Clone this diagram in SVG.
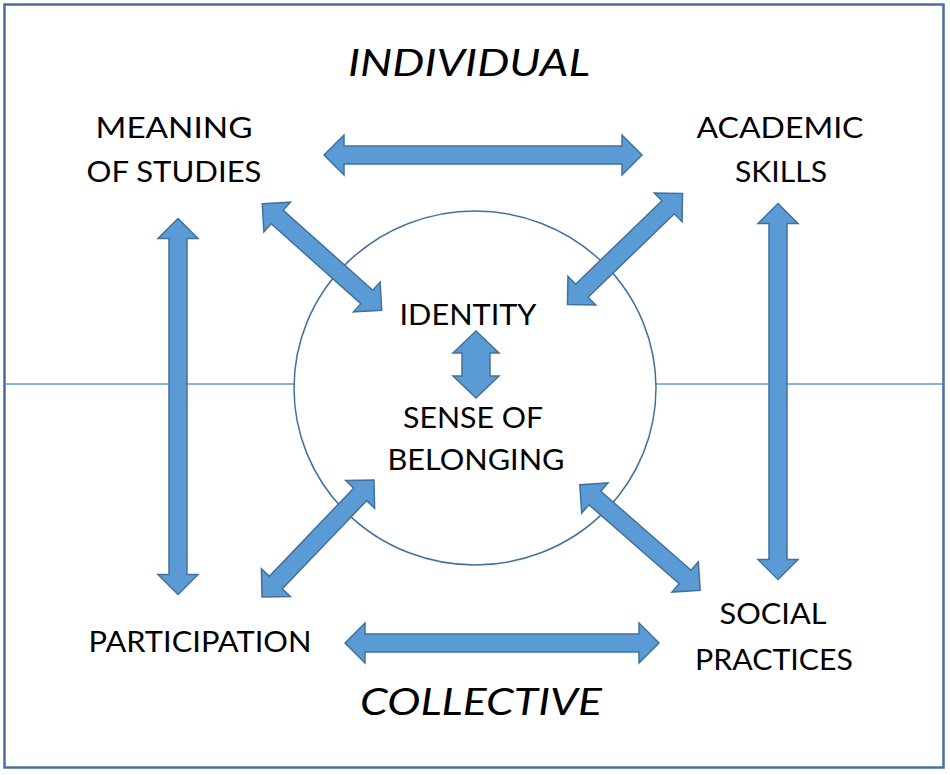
<svg xmlns="http://www.w3.org/2000/svg" width="950" height="775" viewBox="0 0 950 775">
<style>
.arr{fill:#5b9bd5;stroke:#41719c;stroke-width:1.5;stroke-linejoin:miter}
.lbl{font-family:Lato,"Open Sans","Liberation Sans",sans-serif;font-size:29px;fill:#000;text-anchor:middle}
.big{font-family:Lato,"Open Sans","Liberation Sans",sans-serif;font-size:37px;font-style:italic;fill:#000;text-anchor:middle}
</style>
<rect x="0" y="0" width="950" height="775" fill="#fff"/>
<rect x="4.5" y="4.5" width="939" height="763" fill="none" stroke="#4a6d9f" stroke-width="2.5"/>
<g id="axis">
<line x1="5" y1="384" x2="294" y2="384" stroke="#5b9bd5" stroke-width="1.5"/>
<line x1="656" y1="384" x2="943" y2="384" stroke="#5b9bd5" stroke-width="1.5"/>
</g>
<g id="circle">
<ellipse cx="475" cy="388" rx="181" ry="177" fill="none" stroke="#41719c" stroke-width="1.5"/>
</g>
<g id="labels">
<text class="big" x="469" y="76" textLength="242" lengthAdjust="spacingAndGlyphs">INDIVIDUAL</text>
<text class="big" x="481" y="715" textLength="242" lengthAdjust="spacingAndGlyphs">COLLECTIVE</text>
</g>
<g id="node-meaning">
<text class="lbl" x="174" y="138" textLength="157" lengthAdjust="spacingAndGlyphs">MEANING</text>
<text class="lbl" x="174" y="182" textLength="175" lengthAdjust="spacingAndGlyphs">OF STUDIES</text>
</g>
<g id="node-academic">
<text class="lbl" x="780" y="138" textLength="167" lengthAdjust="spacingAndGlyphs">ACADEMIC</text>
<text class="lbl" x="781" y="182" textLength="92" lengthAdjust="spacingAndGlyphs">SKILLS</text>
</g>
<g id="node-identity">
<text class="lbl" x="468" y="325" textLength="137" lengthAdjust="spacingAndGlyphs">IDENTITY</text>
</g>
<g id="node-belonging">
<text class="lbl" x="473" y="428" textLength="140" lengthAdjust="spacingAndGlyphs">SENSE OF</text>
<text class="lbl" x="476" y="470" textLength="177" lengthAdjust="spacingAndGlyphs">BELONGING</text>
</g>
<g id="node-participation">
<text class="lbl" x="200" y="652" textLength="223" lengthAdjust="spacingAndGlyphs">PARTICIPATION</text>
</g>
<g id="node-social">
<text class="lbl" x="773" y="624" textLength="107" lengthAdjust="spacingAndGlyphs">SOCIAL</text>
<text class="lbl" x="774" y="670" textLength="158" lengthAdjust="spacingAndGlyphs">PRACTICES</text>
</g>
<g id="connectors">
<polygon class="arr" transform="translate(483,155)" points="-159,0 -139,-20 -139,-9 139,-9 139,-20 159,0 139,20 139,9 -139,9 -139,20"/>
<polygon class="arr" transform="translate(502,643)" points="-157,0 -137,-20 -137,-9 137,-9 137,-20 157,0 137,20 137,9 -137,9 -137,20"/>
<polygon class="arr" transform="translate(178,406.5) rotate(90)" points="-188,0 -168,-20 -168,-9 168,-9 168,-20 188,0 168,20 168,9 -168,9 -168,20"/>
<polygon class="arr" transform="translate(778,391.5) rotate(90)" points="-188,0 -168,-20 -168,-9 168,-9 168,-20 188,0 168,20 168,9 -168,9 -168,20"/>
<polygon class="arr" transform="translate(322,257) rotate(41.7)" points="-80,0 -60,-20 -60,-9 60,-9 60,-20 80,0 60,20 60,9 -60,9 -60,20"/>
<polygon class="arr" transform="translate(625,249) rotate(-44)" points="-80,0 -60,-20 -60,-9 60,-9 60,-20 80,0 60,20 60,9 -60,9 -60,20"/>
<polygon class="arr" transform="translate(318,538.5) rotate(-46.3)" points="-81,0 -61,-20 -61,-9 61,-9 61,-20 81,0 61,20 61,9 -61,9 -61,20"/>
<polygon class="arr" transform="translate(640,537.5) rotate(41.2)" points="-80,0 -60,-20 -60,-9 60,-9 60,-20 80,0 60,20 60,9 -60,9 -60,20"/>
<polygon class="arr" transform="translate(476,364.5) rotate(90)" points="-33.5,0 -11.5,-23 -11.5,-14 11.5,-14 11.5,-23 33.5,0 11.5,23 11.5,14 -11.5,14 -11.5,23"/>
</g>
</svg>
